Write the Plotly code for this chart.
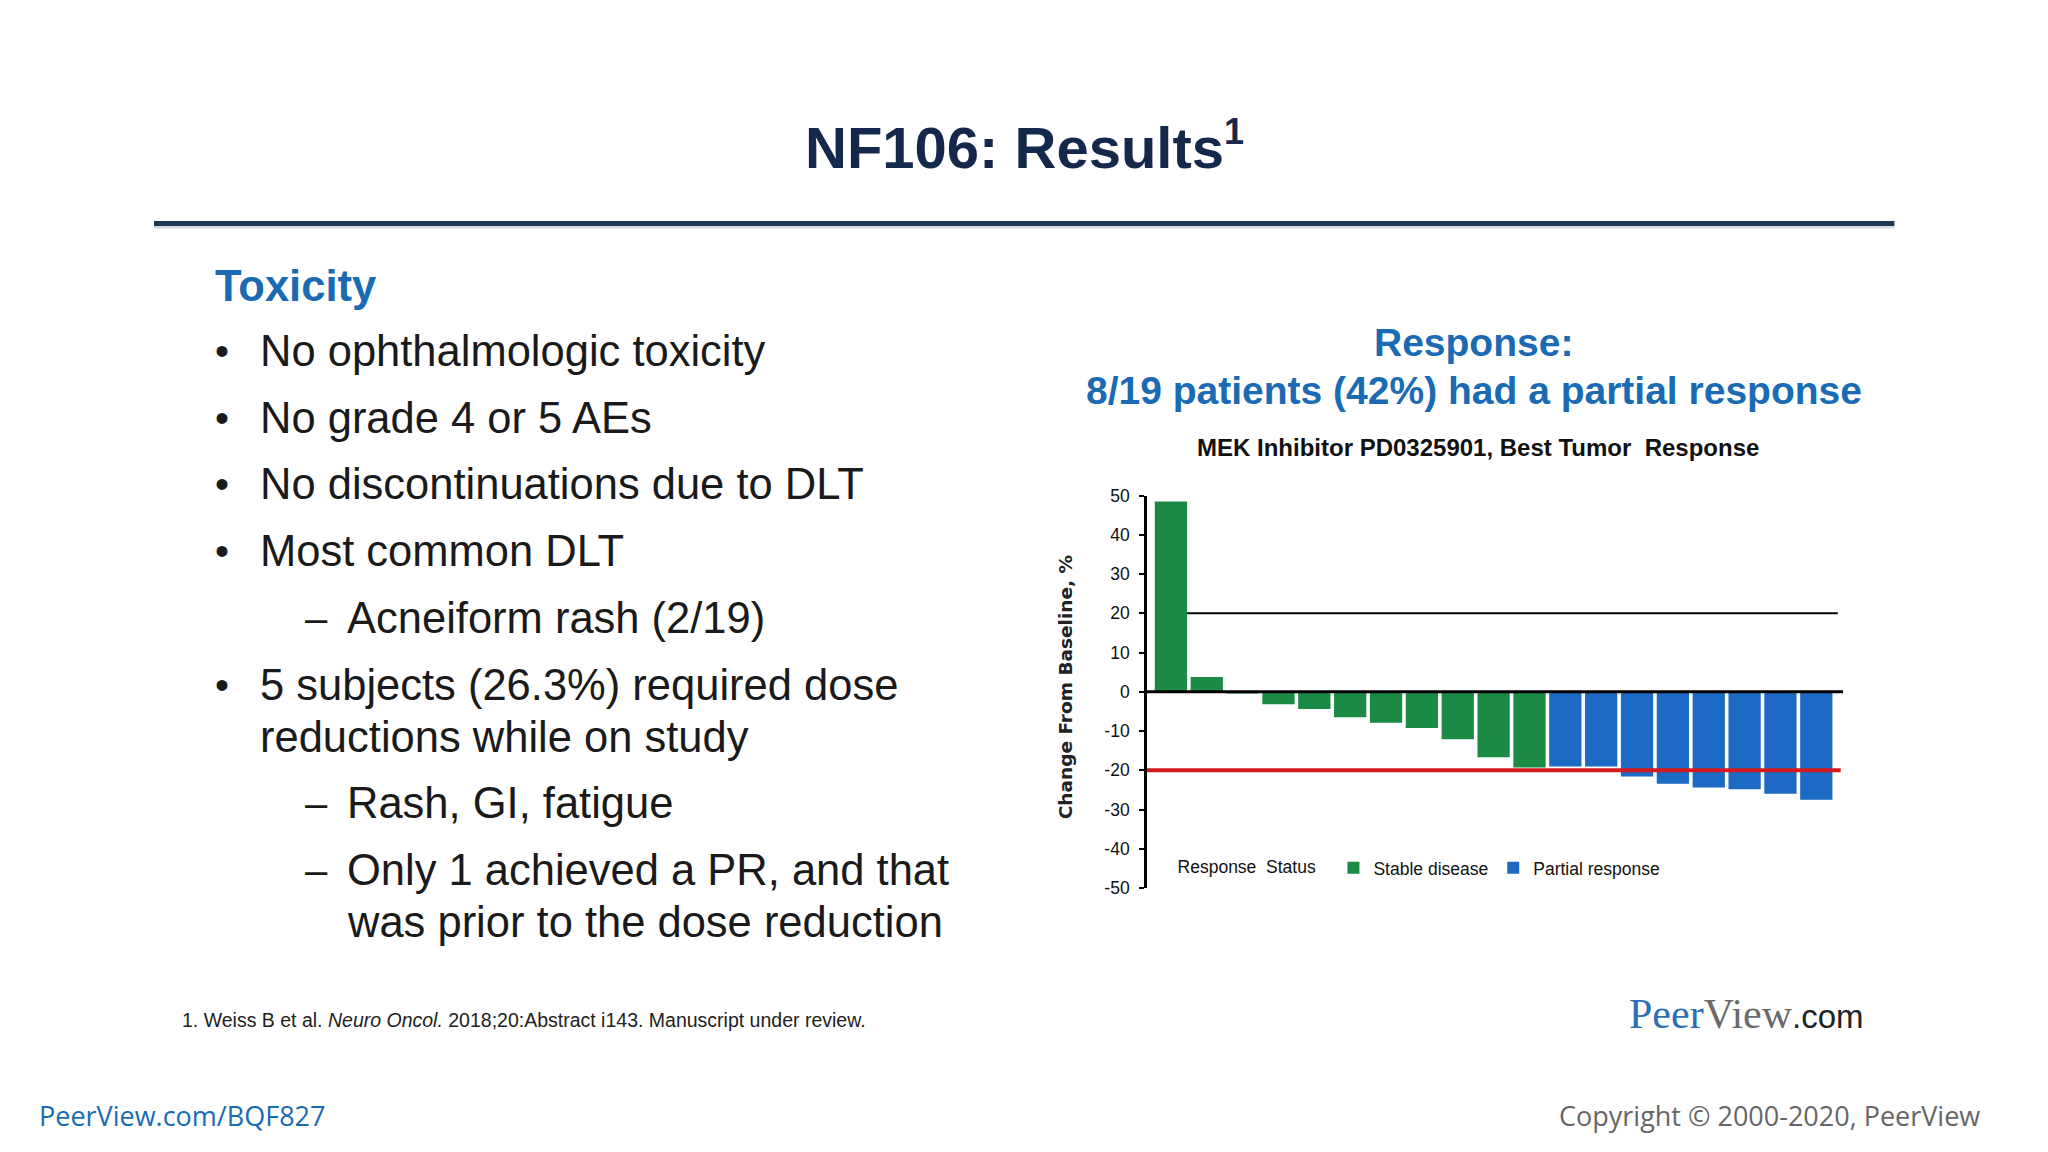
import plotly.graph_objects as go

# ---------------- data ----------------
patients = list(range(1, 20))
change_pct = [48.5, 3.8, -0.3, -3.2, -4.4, -6.5, -7.9, -9.2, -12.1, -16.7, -19.3,
              -19.0, -19.0, -21.6, -23.4, -24.4, -24.8, -26.0, -27.5]
status = ["Stable disease"] * 11 + ["Partial response"] * 8
status_order = ["Stable disease", "Partial response"]
status_colors = {"Stable disease": "#1a8a45", "Partial response": "#1c6ac3"}
progression_threshold = 20
response_threshold = -20
y_tickvals = [50, 40, 30, 20, 10, 0, -10, -20, -30, -40, -50]
y_ticktext = ["50", "40", "30", "20", "10", "0", "-10", "-20", "-30", "-40", "-50"]

bullets = [
    ("•", "No ophthalmologic toxicity", 1),
    ("•", "No grade 4 or 5 AEs", 1),
    ("•", "No discontinuations due to DLT", 1),
    ("•", "Most common DLT", 1),
    ("–", "Acneiform rash (2/19)", 2),
    ("•", "5 subjects (26.3%) required dose", 1),
    ("", "reductions while on study", 1),
    ("–", "Rash, GI, fatigue", 2),
    ("–", "Only 1 achieved a PR, and that", 2),
    ("", "was prior to the dose reduction", 2),
]
bullet_y = [0.6984, 0.6393, 0.5813, 0.522, 0.4629, 0.4037, 0.3577, 0.2996, 0.2405, 0.1943]

FONT = "Arial, 'Liberation Sans', sans-serif"
W, H = 2048, 1152

fig = go.Figure()
idx = list(range(len(patients)))
for st in status_order:
    xs = [i for i, s in zip(idx, status) if s == st]
    ys = [v for v, s in zip(change_pct, status) if s == st]
    fig.add_trace(go.Bar(x=xs, y=ys, name=st, marker=dict(color=status_colors[st], line=dict(width=0)),
                         width=0.9))

x_lo, x_hi = -0.67, 18.75

shapes = [
    dict(type="line", xref="x", yref="y", x0=x_lo, x1=x_hi, y0=0, y1=0,
         line=dict(color="black", width=3), layer="above"),
    dict(type="line", xref="x", yref="y", x0=0.45, x1=18.6, y0=progression_threshold, y1=progression_threshold,
         line=dict(color="black", width=2), layer="above"),
    dict(type="line", xref="x", yref="y", x0=x_lo, x1=18.68, y0=response_threshold, y1=response_threshold,
         line=dict(color="#d31a1f", width=4), layer="above"),
    dict(type="line", xref="paper", yref="paper", x0=0.0752, x1=0.925, y0=0.8085, y1=0.8085,
         line=dict(color="#d6dbe2", width=4), layer="below"),
    dict(type="line", xref="paper", yref="paper", x0=0.0752, x1=0.925, y0=0.8115, y1=0.8115,
         line=dict(color="#1c3656", width=5)),
]

ann = []
ann.append(dict(text="<b>NF106: Results<sup><span style='font-size:36px'>1</span></sup></b>", x=0.5, y=0.880,
                xref="paper", yref="paper", showarrow=False, xanchor="center", yanchor="middle",
                font=dict(family=FONT, size=58, color="#14284b")))
ann.append(dict(text="<b>Toxicity</b>", x=0.104, y=0.7564, xref="paper", yref="paper", showarrow=False,
                xanchor="left", yanchor="middle", font=dict(family=FONT, size=43.5, color="#1a6bb3")))
for (sym, txt, lvl), yy in zip(bullets, bullet_y):
    if lvl == 1:
        sx, tx = 0.104, 0.126
    else:
        sx, tx = 0.148, 0.1685
    if sym:
        ann.append(dict(text=sym, x=sx, y=yy, xref="paper", yref="paper", showarrow=False,
                        xanchor="left", yanchor="middle", font=dict(family=FONT, size=40, color="#1a1a1a")))
    ann.append(dict(text=txt, x=tx, y=yy, xref="paper", yref="paper", showarrow=False,
                    xanchor="left", yanchor="middle", font=dict(family=FONT, size=43.5, color="#1a1a1a")))

ann.append(dict(text="<b>Response:</b>", x=0.7195, y=0.7064, xref="paper", yref="paper", showarrow=False,
                xanchor="center", yanchor="middle", font=dict(family=FONT, size=39, color="#1a6bb3")))
ann.append(dict(text="<b>8/19 patients (42%) had a partial response</b>", x=0.7195, y=0.6643, xref="paper",
                yref="paper", showarrow=False, xanchor="center", yanchor="middle",
                font=dict(family=FONT, size=39, color="#1a6bb3")))
ann.append(dict(text="<b>MEK Inhibitor PD0325901, Best Tumor  Response</b>", x=0.7215, y=0.6133, xref="paper",
                yref="paper", showarrow=False, xanchor="center", yanchor="middle",
                font=dict(family=FONT, size=24, color="#111111")))
ann.append(dict(text="<b>Change From Baseline, %</b>", x=0.520, y=0.4017, xref="paper", yref="paper",
                showarrow=False, xanchor="center", yanchor="middle", textangle=-90,
                font=dict(family="Verdana, 'DejaVu Sans', sans-serif", size=18.5, color="#222222")))
ann.append(dict(text="1. Weiss B et al. <i>Neuro Oncol.</i> 2018;20:Abstract i143. Manuscript under review.",
                x=0.088, y=0.1082, xref="paper", yref="paper", showarrow=False, xanchor="left",
                yanchor="middle", font=dict(family=FONT, size=19.5, color="#222222")))
ann.append(dict(text="<span style='color:#2a6fb3'>Peer</span><span style='color:#6a6a6a'>View</span>"
                     "<span style='font-family:Arial, Liberation Sans;font-size:33px;color:#222'>.com</span>",
                x=0.853, y=0.1133, xref="paper", yref="paper", showarrow=False, xanchor="center",
                yanchor="middle", font=dict(family="'Liberation Serif', 'Times New Roman', serif", size=42)))
ann.append(dict(text="PeerView.com/BQF827", x=0.018, y=0.0232, xref="paper", yref="paper", showarrow=False,
                xanchor="left", yanchor="middle", font=dict(family="'Open Sans', sans-serif", size=27,
                                                            color="#1a6bb3")))
ann.append(dict(text="Copyright © 2000-2020, PeerView", x=0.968, y=0.0232, xref="paper", yref="paper",
                showarrow=False, xanchor="right", yanchor="middle",
                font=dict(family="'Open Sans', sans-serif", size=27, color="#666666")))

fig.update_layout(
    width=W, height=H,
    margin=dict(l=0, r=0, t=0, b=0),
    paper_bgcolor="white", plot_bgcolor="white",
    bargap=0.1,
    shapes=shapes, annotations=ann,
    xaxis=dict(domain=[0.560, 0.900], range=[x_lo, x_hi], visible=False),
    yaxis=dict(domain=[0.2243, 0.5711], range=[-50, 50], tickvals=y_tickvals, ticktext=y_ticktext,
               showgrid=False, zeroline=False, showline=True, linecolor="black", linewidth=2.5,
               ticks="outside", ticklen=5, tickwidth=2, tickcolor="black", ticklabelstandoff=6,
               tickfont=dict(family=FONT, size=17.5, color="#111111")),
    legend=dict(orientation="h", x=0.574, y=0.2422, xanchor="left", yanchor="middle",
                title=dict(text="Response\u00a0\u00a0Status\u00a0\u00a0",
                           font=dict(family=FONT, size=17.5, color="#111")),
                font=dict(family=FONT, size=17.5, color="#111"), bgcolor="rgba(0,0,0,0)",
                itemwidth=30, tracegroupgap=0),
    showlegend=True,
)

post = (
    "var h=document.documentElement, b=document.body;"
    "h.style.margin='0';h.style.padding='0';h.style.overflow='hidden';"
    "b.style.margin='0';b.style.padding='0';b.style.overflow='hidden';"
    "var d=document.getElementById('{plot_id}');"
    "d.style.position='fixed';d.style.left='0px';d.style.top='0px';"
)
fig.write_html("out.html", post_script=post, config={"displayModeBar": False})
